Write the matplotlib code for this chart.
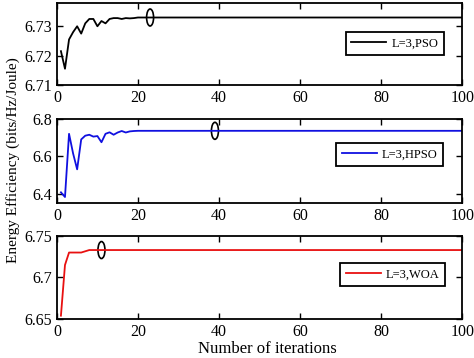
import matplotlib
matplotlib.use('Agg')
import matplotlib.pyplot as plt
from matplotlib.patches import Ellipse

plt.rcParams['font.family'] = ['Liberation Serif', 'DejaVu Serif']

# iterations 1..100
iters = list(range(1, 101))

pso_head = [6.7215, 6.7155, 6.7255, 6.7280, 6.7300, 6.7275, 6.7310, 6.7325, 6.7325, 6.7300,
            6.7318, 6.7310, 6.7325, 6.7328, 6.7328, 6.7325, 6.7328, 6.7327, 6.7328, 6.7330]
pso = pso_head + [6.7330] * 80

# L=3, HPSO
hpso_head = [6.407, 6.382, 6.720, 6.615, 6.530, 6.690, 6.710, 6.715, 6.705, 6.708,
             6.675, 6.720, 6.728, 6.715, 6.727, 6.735, 6.727, 6.733, 6.735, 6.736]
hpso = hpso_head + [6.736] * 80

# L=3, WOA
woa_head = [6.654, 6.715, 6.730, 6.730, 6.730, 6.730, 6.7315, 6.733, 6.733, 6.733]
woa = woa_head + [6.733] * 90

labels = ['L=3,PSO', 'L=3,HPSO', 'L=3,WOA']
colors = ['black', '#1010e0', '#e81010']
series = [pso, hpso, woa]
ylims = [(6.71, 6.738), (6.35, 6.8), (6.65, 6.75)]
yticks = [[6.71, 6.72, 6.73], [6.4, 6.6, 6.8], [6.65, 6.7, 6.75]]
yticklabels = [['6.71', '6.72', '6.73'], ['6.4', '6.6', '6.8'], ['6.65', '6.7', '6.75']]
ellipse_x = [23, 39, 11]

fig = plt.figure(figsize=(4.74, 3.58), dpi=100)

# axes rectangles [left, bottom, width, height]
rects = [[0.120, 0.763, 0.855, 0.229],
         [0.120, 0.433, 0.855, 0.235],
         [0.120, 0.109, 0.855, 0.232]]
legend_anchor = [(0.955, 0.646), (0.953, 0.714), (0.958, 0.675)]

for i in range(3):
    ax = fig.add_axes(rects[i])
    ax.plot(iters, series[i], color=colors[i], lw=1.3, label=labels[i])
    ax.set_xlim(0, 100)
    ax.set_ylim(*ylims[i])
    ax.set_xticks([0, 20, 40, 60, 80, 100])
    ax.set_xticklabels(['0', '20', '40', '60', '80', '100'])
    ax.set_yticks(yticks[i])
    ax.set_yticklabels(yticklabels[i])
    ax.tick_params(direction='in', top=True, right=True, labelsize=11.5, length=4, width=1)
    for s in ax.spines.values():
        s.set_linewidth(1.3)

    # ellipse marking the convergence point (7 px wide, ~17 px tall)
    bbox = ax.get_window_extent()
    y0, y1 = ylims[i]
    w = 7 / bbox.width * 100
    h = 17 / bbox.height * (y1 - y0)
    ax.add_patch(Ellipse((ellipse_x[i], series[i][ellipse_x[i] - 1]), w, h,
                         fill=False, edgecolor='black', lw=1.2))

    leg = ax.legend(loc='upper right', bbox_to_anchor=legend_anchor[i], fontsize=9,
                    fancybox=False, framealpha=1, edgecolor='black', handlelength=2.8,
                    borderpad=0.45, handletextpad=0.4, borderaxespad=0)
    leg.get_frame().set_linewidth(1.3)

fig.text(0.565, 0.003, 'Number of iterations', ha='center', va='bottom', fontsize=12)
fig.text(0.012, 0.553, 'Energy Efficiency (bits/Hz/Joule)', rotation=90,
         ha='left', va='center', fontsize=11)

fig.savefig('out.png', dpi=100)
